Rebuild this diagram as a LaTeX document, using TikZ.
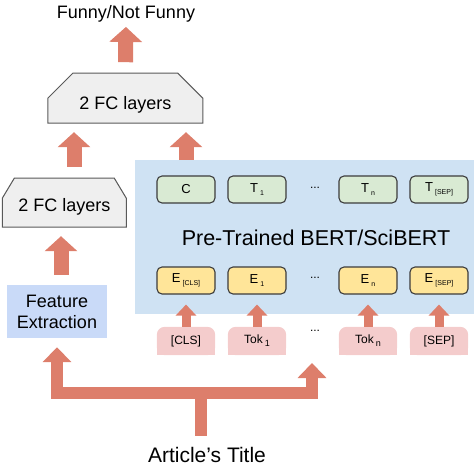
\documentclass[tikz,border=0pt]{standalone}
\usepackage{fontspec}
\setmainfont{Liberation Sans}
\usetikzlibrary{arrows.meta,backgrounds,calc}
\definecolor{arrowc}{HTML}{DD7E6B}
\definecolor{trapfill}{HTML}{EFEFEF}
\definecolor{trapdraw}{HTML}{595959}
\definecolor{bertc}{HTML}{CFE2F3}
\definecolor{featc}{HTML}{C9DAF8}
\definecolor{tgreen}{HTML}{D9EAD3}
\definecolor{eyellow}{HTML}{FFE599}
\definecolor{pinkc}{HTML}{F4CCCC}
\definecolor{boxdraw}{HTML}{3C3C3C}
\newcommand{\fs}[1]{\fontsize{#1}{#1}\selectfont}
\newcommand{\sbx}[1]{\,\raisebox{-2.5pt}{\fs{7}#1}}
\newcommand{\sbt}[1]{\,\raisebox{-3pt}{\fs{9}#1}}
\begin{document}
\begin{tikzpicture}[x=1pt,y=-1pt,
  trapnode/.style={inner sep=0pt, font=\fs{18}},
  trapshape/.style={fill=trapfill, draw=trapdraw, line width=1pt},
  tbox/.style={draw=boxdraw, line width=1.1pt, rounded corners=5pt, fill=tgreen,
    minimum width=58pt, minimum height=27pt, inner sep=0pt, font=\fs{13}},
  ebox/.style={tbox, fill=eyellow},
  pbox/.style={minimum width=58pt, minimum height=28pt, inner sep=0pt, font=\fs{12}},
  dotsnode/.style={inner sep=0pt, font=\fs{12}},
  bigup/.style={draw=arrowc, line width=15pt, -{Triangle[width=32pt,length=15pt]}},
  smallup/.style={draw=arrowc, line width=9pt, -{Triangle[width=20pt,length=11pt]}},
  trunk/.style={draw=arrowc, line width=12pt, line join=miter, -{Triangle[width=28pt,length=15pt]}}
]
\useasboundingbox (0,0) rectangle (474,474);

% texts
\node[anchor=base, inner sep=0pt, font=\fs{18}] (funny) at (126,18) {Funny/Not Funny};
\node[anchor=base, inner sep=0pt, font=\fs{21}] (title) at (207,462) {Article’s Title};

% FC layers
\node[trapnode, minimum width=155pt, minimum height=36pt] (fc2) at (125.5,105) {2 FC layers};
\node[trapnode, minimum width=124pt, minimum height=40pt] (fc1) at (64.5,207) {2 FC layers};

% feature extraction
\node[fill=featc, minimum width=100pt, minimum height=53pt, inner sep=0pt,
  align=center, font={\fontsize{18}{21}\selectfont}] (feat) at (57,311.5) {Feature\\Extraction};

% BERT block
\node[fill=bertc, minimum width=339pt, minimum height=154pt, inner sep=0pt] (bert) at (304.5,237) {};
\node[inner sep=0pt, font=\fs{21.5}] (bertlabel) at (316,238) {Pre-Trained BERT/SciBERT};

\node[tbox] (t0) at (186,189.5) {C};
\node[tbox] (t1) at (257,189.5) {T\sbx{1}};
\node[dotsnode] (tdots) at (315,188) {...};
\node[tbox] (tn) at (368,189.5) {T\sbx{n}};
\node[tbox] (ts) at (439,189.5) {T\sbx{[SEP]}};

\node[ebox] (e0) at (186,280.5) {E\sbx{[CLS]}};
\node[ebox] (e1) at (257,280.5) {E\sbx{1}};
\node[dotsnode] (edots) at (315,278) {...};
\node[ebox] (en) at (368,280.5) {E\sbx{n}};
\node[ebox] (es) at (439,280.5) {E\sbx{[SEP]}};

% token boxes
\node[pbox] (p0) at (186,341) {[CLS]};
\node[pbox] (p1) at (257,341) {Tok\sbt{1}};
\node[dotsnode] (pdots) at (315,331) {...};
\node[pbox] (pn) at (368,341) {Tok\sbt{n}};
\node[pbox] (ps) at (439,341) {[SEP]};

\begin{scope}[on background layer]
  \draw[trapshape] (fc2.south west) -- ++(0,-25) -- ++(25,-25) -- ++(105,0)
    -- ++(25,25) -- ++(0,25) -- cycle;
  \draw[trapshape] (fc1.south west) -- ++(0,-29) -- ++(12,-20) -- ++(100,0)
    -- ++(12,20) -- ++(0,29) -- cycle;
  \foreach \p in {p0,p1,pn,ps}{
    \fill[pinkc, rounded corners=8pt] (\p.south west) rectangle (\p.north east);
    \fill[pinkc] (\p.south west) rectangle (\p.east);
  }
\end{scope}

% arrows
\draw[bigup, shorten >=5pt] ([yshift=61pt]fc2.south) -- (funny.south);
\draw[bigup, shorten <=20pt, shorten >=9pt] ([xshift=9.5pt]fc1.north) -- ([xshift=9.5pt]fc1.north |- fc2.south);
\draw[bigup, shorten >=9pt] (t0.north |- bert.north) -- (t0.north |- fc2.south);
\draw[bigup, shorten <=10pt, shorten >=9pt] ([xshift=4pt]feat.north) -- ([xshift=4pt]feat.north |- fc1.south);

\foreach \a/\b in {p0/e0,p1/e1,pn/en,ps/es}{
  \draw[smallup, shorten >=10pt] (\a.north) -- (\b.south);
}

\coordinate (split) at (201,393);
\coordinate (rtip) at (312,363);
\draw[trunk, shorten <=11pt, shorten >=9pt] ([xshift=-6pt]title.north) -- (split) -| (feat.south);
\draw[trunk] (split) -| (rtip);
\end{tikzpicture}
\end{document}
